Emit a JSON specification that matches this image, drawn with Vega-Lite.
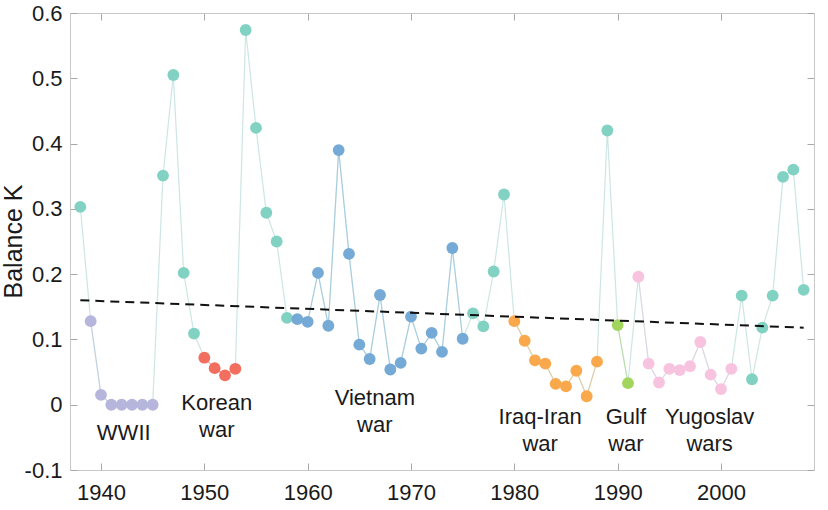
{
  "$schema": "https://vega.github.io/schema/vega-lite/v6.json",
  "width": 744,
  "height": 457,
  "autosize": {"type": "none"},
  "padding": {"left": 70, "top": 13, "right": 14, "bottom": 40},
  "background": "white",
  "config": {
    "view": {"stroke": null},
    "font": "Liberation Sans",
    "axis": {"grid": false, "domainColor": "#c8c8c8", "tickColor": "#a8a8a8", "labelColor": "#1a1a1a", "titleColor": "#1a1a1a", "labelFontSize": 22, "titleFontSize": 25, "titleFontWeight": "normal", "labelFont": "Liberation Sans", "titleFont": "Liberation Sans"}
  },
  "datasets": {
    "pts": [
      {"year": 1938, "k": 0.303, "group": "none"},
      {"year": 1939, "k": 0.128, "group": "WWII"},
      {"year": 1940, "k": 0.015, "group": "WWII"},
      {"year": 1941, "k": 0.0, "group": "WWII"},
      {"year": 1942, "k": 0.0, "group": "WWII"},
      {"year": 1943, "k": 0.0, "group": "WWII"},
      {"year": 1944, "k": 0.0, "group": "WWII"},
      {"year": 1945, "k": 0.0, "group": "WWII"},
      {"year": 1946, "k": 0.351, "group": "none"},
      {"year": 1947, "k": 0.505, "group": "none"},
      {"year": 1948, "k": 0.202, "group": "none"},
      {"year": 1949, "k": 0.109, "group": "none"},
      {"year": 1950, "k": 0.072, "group": "Korean"},
      {"year": 1951, "k": 0.056, "group": "Korean"},
      {"year": 1952, "k": 0.045, "group": "Korean"},
      {"year": 1953, "k": 0.055, "group": "Korean"},
      {"year": 1954, "k": 0.574, "group": "none"},
      {"year": 1955, "k": 0.424, "group": "none"},
      {"year": 1956, "k": 0.294, "group": "none"},
      {"year": 1957, "k": 0.25, "group": "none"},
      {"year": 1958, "k": 0.133, "group": "none"},
      {"year": 1959, "k": 0.131, "group": "Vietnam"},
      {"year": 1960, "k": 0.127, "group": "Vietnam"},
      {"year": 1961, "k": 0.202, "group": "Vietnam"},
      {"year": 1962, "k": 0.121, "group": "Vietnam"},
      {"year": 1963, "k": 0.39, "group": "Vietnam"},
      {"year": 1964, "k": 0.231, "group": "Vietnam"},
      {"year": 1965, "k": 0.092, "group": "Vietnam"},
      {"year": 1966, "k": 0.07, "group": "Vietnam"},
      {"year": 1967, "k": 0.168, "group": "Vietnam"},
      {"year": 1968, "k": 0.054, "group": "Vietnam"},
      {"year": 1969, "k": 0.064, "group": "Vietnam"},
      {"year": 1970, "k": 0.135, "group": "Vietnam"},
      {"year": 1971, "k": 0.086, "group": "Vietnam"},
      {"year": 1972, "k": 0.11, "group": "Vietnam"},
      {"year": 1973, "k": 0.081, "group": "Vietnam"},
      {"year": 1974, "k": 0.24, "group": "Vietnam"},
      {"year": 1975, "k": 0.101, "group": "Vietnam"},
      {"year": 1976, "k": 0.14, "group": "none"},
      {"year": 1977, "k": 0.12, "group": "none"},
      {"year": 1978, "k": 0.204, "group": "none"},
      {"year": 1979, "k": 0.322, "group": "none"},
      {"year": 1980, "k": 0.128, "group": "IraqIran"},
      {"year": 1981, "k": 0.098, "group": "IraqIran"},
      {"year": 1982, "k": 0.068, "group": "IraqIran"},
      {"year": 1983, "k": 0.063, "group": "IraqIran"},
      {"year": 1984, "k": 0.032, "group": "IraqIran"},
      {"year": 1985, "k": 0.028, "group": "IraqIran"},
      {"year": 1986, "k": 0.052, "group": "IraqIran"},
      {"year": 1987, "k": 0.013, "group": "IraqIran"},
      {"year": 1988, "k": 0.066, "group": "IraqIran"},
      {"year": 1989, "k": 0.42, "group": "none"},
      {"year": 1990, "k": 0.122, "group": "Gulf"},
      {"year": 1991, "k": 0.033, "group": "Gulf"},
      {"year": 1992, "k": 0.196, "group": "Yugoslav"},
      {"year": 1993, "k": 0.063, "group": "Yugoslav"},
      {"year": 1994, "k": 0.034, "group": "Yugoslav"},
      {"year": 1995, "k": 0.055, "group": "Yugoslav"},
      {"year": 1996, "k": 0.053, "group": "Yugoslav"},
      {"year": 1997, "k": 0.059, "group": "Yugoslav"},
      {"year": 1998, "k": 0.096, "group": "Yugoslav"},
      {"year": 1999, "k": 0.046, "group": "Yugoslav"},
      {"year": 2000, "k": 0.024, "group": "Yugoslav"},
      {"year": 2001, "k": 0.055, "group": "Yugoslav"},
      {"year": 2002, "k": 0.167, "group": "none"},
      {"year": 2003, "k": 0.039, "group": "none"},
      {"year": 2004, "k": 0.118, "group": "none"},
      {"year": 2005, "k": 0.167, "group": "none"},
      {"year": 2006, "k": 0.349, "group": "none"},
      {"year": 2007, "k": 0.36, "group": "none"},
      {"year": 2008, "k": 0.176, "group": "none"}
    ],
    "trend": [
      {"year": 1938, "k": 0.16},
      {"year": 2008, "k": 0.118}
    ],
    "labels": [
      {"year": 1942.2, "k": -0.044, "text": "WWII"},
      {"year": 1951.2, "k": 0.002, "text": "Korean\nwar"},
      {"year": 1966.5, "k": 0.011, "text": "Vietnam\nwar"},
      {"year": 1982.5, "k": -0.019, "text": "Iraq-Iran\nwar"},
      {"year": 1990.8, "k": -0.019, "text": "Gulf\nwar"},
      {"year": 1998.9, "k": -0.019, "text": "Yugoslav\nwars"}
    ]
  },
  "resolve": {"axis": {"x": "independent", "y": "independent"}},
  "layer": [
    {
      "data": {"name": "pts"},
      "mark": {"type": "line", "color": "#cde6e4", "strokeWidth": 1.2},
      "encoding": {
        "x": {"field": "year", "type": "quantitative", "scale": {"domain": [1937, 2009], "nice": false, "zero": false},
          "axis": {"orient": "bottom", "values": [1940, 1950, 1960, 1970, 1980, 1990, 2000], "format": "d", "title": null, "tickSize": -7, "labelPadding": 19, "tickColor": "#a8a8a8"}},
        "y": {"field": "k", "type": "quantitative", "scale": {"domain": [-0.1, 0.6], "nice": false, "zero": false},
          "axis": {"orient": "left", "values": [-0.1, 0, 0.1, 0.2, 0.3, 0.4, 0.5, 0.6], "labelExpr": "'' + round(datum.value*10)/10", "title": "Balance K", "tickSize": -7, "labelPadding": 15, "titleX": -57, "titleY": 228, "titleBaseline": "middle", "titleAlign": "center", "titleAngle": 270}}
      }
    },
    {
      "data": {"name": "pts"},
      "transform": [{"filter": "datum.group != 'none'"}],
      "mark": {"type": "line", "strokeWidth": 1.2, "opacity": 0.42},
      "encoding": {
        "x": {"field": "year", "type": "quantitative", "axis": null},
        "y": {"field": "k", "type": "quantitative", "axis": null},
        "detail": {"field": "group"},
        "color": {"field": "group", "type": "nominal", "legend": null,
          "scale": {"domain": ["none", "WWII", "Korean", "Vietnam", "IraqIran", "Gulf", "Yugoslav"],
            "range": ["#82d2c3", "#b6b6dc", "#f26e5e", "#74aad5", "#f9a84c", "#a2d55e", "#f8c3df"]}}
      }
    },
    {
      "data": {"name": "pts"},
      "mark": {"type": "circle", "size": 140, "opacity": 1},
      "encoding": {
        "x": {"field": "year", "type": "quantitative", "axis": null},
        "y": {"field": "k", "type": "quantitative", "axis": null},
        "color": {"field": "group", "type": "nominal", "legend": null}
      }
    },
    {
      "data": {"name": "trend"},
      "mark": {"type": "line", "color": "#111111", "strokeWidth": 2, "strokeDash": [9, 6]},
      "encoding": {
        "x": {"field": "year", "type": "quantitative",
          "axis": {"orient": "top", "values": [1940, 1950, 1960, 1970, 1980, 1990, 2000], "labels": false, "title": null, "tickSize": -7}},
        "y": {"field": "k", "type": "quantitative",
          "axis": {"orient": "right", "values": [-0.1, 0, 0.1, 0.2, 0.3, 0.4, 0.5, 0.6], "labels": false, "title": null, "tickSize": -7}}
      }
    },
    {
      "data": {"name": "labels"},
      "mark": {"type": "text", "fontSize": 22, "lineBreak": "\n", "lineHeight": 27, "align": "center", "baseline": "middle", "color": "#1a1a1a", "font": "Liberation Sans"},
      "encoding": {
        "x": {"field": "year", "type": "quantitative", "axis": null},
        "y": {"field": "k", "type": "quantitative", "axis": null},
        "text": {"field": "text"}
      }
    }
  ]
}
